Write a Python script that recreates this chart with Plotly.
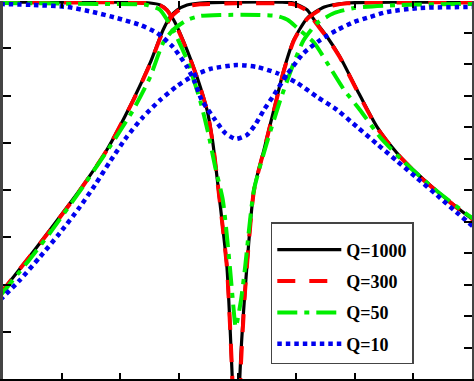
import plotly.graph_objects as go

# Detuning axis (arb. units) and transmission (dB)
# ---- Q = 1000 ----
q1000_notch_x = [-4.05, -3.03, -2.01, -1.49, -1.32, -1.20, -1.07, -0.86, -0.69, -0.52, -0.42, -0.33, -0.26, -0.18, -0.13, -0.09, -0.06, -0.02,
                 0.03, 0.04, 0.13, 0.28, 0.45, 0.62, 0.79, 0.96, 1.19, 1.48, 1.87, 2.77, 4.03]
q1000_notch_y = [-0.11, -0.11, -0.11, -0.21, -0.42, -0.95, -2.22, -5.19, -8.04, -11.53, -15.03, -19.68, -23.49, -28.15, -34.07, -39.79, -44.3, -48.6,
                 -44.3, -39.79, -30.58, -20.0, -15.77, -11.53, -7.30, -4.13, -1.80, -0.63, -0.21, -0.11, -0.11]
q1000_peak_x = [-4.05, -3.54, -3.20, -2.69, -2.23, -1.78, -1.49, -1.27, -1.15, -1.03, -0.86, -0.64, -0.01, 0.73, 0.96, 1.19, 1.31, 1.53, 1.75,
                2.04, 2.38, 2.72, 3.11, 3.40, 3.91, 4.03]
q1000_peak_y = [-31.0, -26.98, -24.23, -20.0, -15.77, -10.48, -6.56, -3.07, -1.69, -0.95, -0.42, -0.21, -0.11, -0.11, -0.21, -0.95, -2.01, -3.81, -5.93,
                -9.42, -13.33, -16.08, -18.52, -20.11, -22.65, -23.17]

# ---- Q = 300 ----
q300_notch_x = [-4.05, -3.03, -2.01, -1.49, -1.32, -1.20, -1.07, -0.86, -0.69, -0.52, -0.42, -0.33, -0.26, -0.18, -0.13, -0.09, -0.06, -0.02,
                0.03, 0.05, 0.13, 0.28, 0.45, 0.62, 0.79, 0.96, 1.19, 1.48, 1.87, 2.77, 4.03]
q300_notch_y = [-0.15, -0.15, -0.15, -0.25, -0.45, -1.0, -2.3, -5.3, -8.1, -11.6, -15.1, -19.7, -23.5, -28.2, -34.0, -39.6, -44.0, -47.5,
                -44.0, -39.6, -30.6, -20.1, -15.8, -11.6, -7.4, -4.2, -1.9, -0.7, -0.25, -0.15, -0.15]
q300_peak_x = [-4.05, -3.54, -3.20, -2.69, -2.23, -1.78, -1.49, -1.27, -1.15, -1.03, -0.86, -0.64, -0.01, 0.73, 0.96, 1.19, 1.31, 1.53, 1.75,
               2.04, 2.38, 2.72, 3.11, 3.40, 3.91, 4.03]
q300_peak_y = [-31.0, -27.0, -24.3, -20.05, -15.8, -10.55, -6.65, -3.2, -1.85, -1.1, -0.55, -0.35, -0.25, -0.25, -0.35, -1.05, -2.1, -3.9, -6.0,
               -9.5, -13.4, -16.15, -18.6, -20.15, -22.7, -23.2]

# ---- Q = 50 ----
q50_notch_x = [-4.05, -2.35, -1.54, -1.32, -1.20, -1.07, -0.86, -0.64, -0.50, -0.38, -0.25, -0.13, -0.08, -0.03, 0.06, 0.13, 0.28, 0.50,
               0.73, 0.96, 1.13, 1.36, 1.65, 1.99, 2.77, 4.03]
q50_notch_y = [-0.21, -0.32, -0.42, -0.95, -2.01, -3.39, -6.24, -10.48, -13.97, -17.57, -21.06, -28.15, -31.64, -34.50, -31.64, -28.15, -20.0, -15.03,
               -10.48, -6.56, -4.13, -2.33, -1.27, -0.74, -0.42, -0.32]
q50_peak_x = [-4.05, -3.54, -3.20, -2.64, -2.18, -1.78, -1.49, -1.27, -1.10, -0.86, -0.64, -0.30, 0.38, 0.67, 0.86, 1.02, 1.31, 1.53, 1.82,
              2.09, 2.43, 2.84, 3.40, 3.91, 4.03]
q50_peak_y = [-31.2, -27.3, -24.55, -19.68, -15.45, -11.53, -8.04, -4.44, -3.07, -2.01, -1.59, -1.48, -1.48, -1.59, -2.01, -2.86, -4.44, -6.56, -9.42,
              -11.53, -14.39, -17.04, -20.11, -22.55, -23.07]

# ---- Q = 10 ----
q10_notch_x = [-4.05, -3.49, -2.91, -2.47, -2.06, -1.66, -1.37, -1.10, -0.86, -0.73, -0.61, -0.38, -0.21, -0.03, 0.16, 0.30, 0.45, 0.62, 0.84,
               1.13, 1.41, 1.70, 1.99, 2.26, 2.55, 3.11, 4.03]
q10_notch_y = [-0.32, -0.42, -0.63, -1.16, -1.80, -2.54, -3.39, -4.87, -6.98, -8.57, -10.48, -12.59, -13.97, -14.60, -14.18, -13.12, -11.53, -9.95, -7.83,
               -5.50, -4.13, -3.07, -2.22, -1.69, -1.16, -0.74, -0.63]
q10_peak_x = [-4.05, -3.71, -3.37, -3.03, -2.69, -2.43, -2.18, -1.89, -1.61, -1.32, -1.03, -0.76, -0.47, -0.01, 0.33, 0.67, 1.02, 1.36, 1.70,
              2.04, 2.38, 2.72, 3.06, 3.40, 3.69, 4.03]
q10_peak_y = [-31.64, -29.52, -27.09, -24.55, -21.80, -19.47, -17.04, -14.39, -12.27, -10.48, -8.99, -7.94, -7.20, -6.77, -6.98, -7.62, -8.68, -10.16, -11.53,
              -13.33, -15.13, -16.93, -18.73, -20.53, -22.12, -23.92]

series = [
    ("Q=1000", q1000_notch_x, q1000_notch_y, q1000_peak_x, q1000_peak_y, "#000000", "solid", 3.2),
    ("Q=300", q300_notch_x, q300_notch_y, q300_peak_x, q300_peak_y, "#ff0000", "18px,14px", 4),
    ("Q=50", q50_notch_x, q50_notch_y, q50_peak_x, q50_peak_y, "#00ee00", "20px,7px,5px,7px", 4),
    ("Q=10", q10_notch_x, q10_notch_y, q10_peak_x, q10_peak_y, "#0000ee", "4.5px,4px", 4.5),
]

fig = go.Figure()
for name, nx, ny, px, py, color, dash, w in series:
    line = dict(color=color, dash=dash, width=w, shape="spline", smoothing=0.6)
    fig.add_trace(go.Scatter(x=nx, y=ny, mode="lines", name=name, line=line,
                             legendgroup=name, showlegend=True))
    fig.add_trace(go.Scatter(x=px, y=py, mode="lines", name=name, line=line,
                             legendgroup=name, showlegend=False))

# helper trace so the top / right tick axes are drawn
fig.add_trace(go.Scatter(x=[None], y=[None], xaxis="x2", yaxis="y2", showlegend=False,
                         hoverinfo="skip"))

fig.update_layout(
    width=474, height=381,
    margin=dict(l=3, r=2, t=1, b=2),
    paper_bgcolor="white", plot_bgcolor="white",
    showlegend=True,
    xaxis=dict(range=[-4, 4], dtick=1, tick0=0, ticks="inside", ticklen=6, tickwidth=2,
               tickcolor="black", showticklabels=False, showgrid=False, zeroline=False,
               showline=True, linecolor="black", linewidth=3),
    xaxis2=dict(range=[-4, 4], dtick=1, tick0=0, ticks="inside", ticklen=7, tickwidth=2,
                tickcolor="black", showticklabels=False, showgrid=False, zeroline=False,
                showline=False, overlaying="x", side="top"),
    yaxis=dict(range=[-40, 0], dtick=5, tick0=0, ticks="inside", ticklen=8, tickwidth=2,
               tickcolor="black", showticklabels=False, showgrid=False, zeroline=False,
               showline=True, linecolor="#444444", linewidth=2.5),
    yaxis2=dict(range=[0, 12], dtick=1, tick0=0, ticks="inside", ticklen=8, tickwidth=2,
                tickcolor="black", showticklabels=False, showgrid=False, zeroline=False,
                showline=True, linecolor="#444444", linewidth=2, overlaying="y", side="right"),
    legend=dict(x=0.571, y=0.415, xanchor="left", yanchor="top",
                bgcolor="white", bordercolor="#444444", borderwidth=1.5,
                font=dict(family="Liberation Serif", size=18, color="black", weight="bold"),
                title=dict(text=" ", font=dict(size=6)),
                itemwidth=64, tracegroupgap=5),
)

fig.write_html("out.html", config={"displayModeBar": False},
               post_script="document.body.style.margin='0';document.body.style.overflow='hidden';")
